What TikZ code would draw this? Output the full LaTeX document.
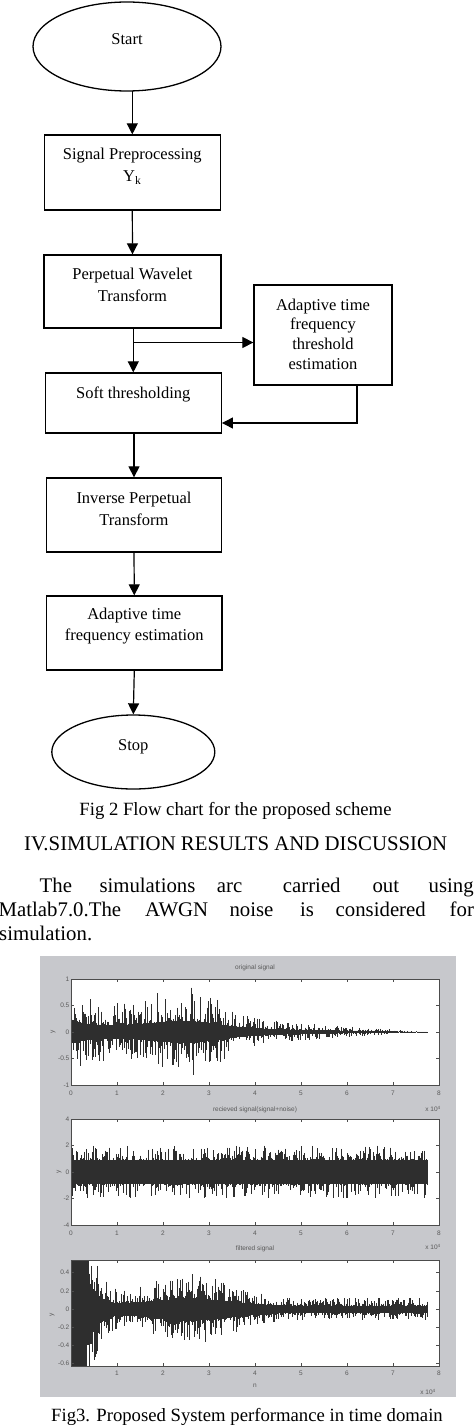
\documentclass[tikz,border=0pt]{standalone}
\usepackage{fontspec}
\setmainfont{Liberation Serif}
\newfontfamily\plotfont{Liberation Sans}
\usetikzlibrary{shapes.geometric,arrows.meta,calc}
\definecolor{figgray}{RGB}{199,200,204}
\begin{document}
\begin{tikzpicture}[x=1pt,y=-1pt,
  termin/.style={draw,ellipse,line width=1.3pt,inner sep=0pt},
  box/.style={draw,rectangle,line width=1.3pt,inner sep=0pt},
  ftext/.style={font=\fontsize{16.5}{22}\selectfont,align=center,inner sep=0pt},
  flow/.style={line width=1.2pt,-{Triangle[length=11pt,width=11pt]}},
  captext/.style={font=\fontsize{18.7}{22}\selectfont,inner sep=0pt,anchor=base},
  body/.style={font=\fontsize{20.8}{24}\selectfont,inner sep=0pt,anchor=base west},
  plotlbl/.style={font=\plotfont\fontsize{6.5}{7}\selectfont,text=black!65,inner sep=0pt},
  axbox/.style={draw=black!70,line width=0.7pt,fill=white},
  tickmark/.style={draw=black!70,line width=0.6pt},
  sigline/.style={draw=black!82,line width=0.6pt}]
\useasboundingbox (0,0) rectangle (474,1426);

% ---------------- flow chart ----------------
\node[termin,minimum width=188pt,minimum height=89pt] (start) at (127,46.5) {};
\node[ftext] (starttext) at (127,39) {Start};

\node[box,minimum width=176pt,minimum height=75pt] (b1) at (132.3,172.5) {};
\node[ftext,anchor=north] (b1text) at ($(b1.north)+(0,13.7)$) {Signal Preprocessing\\Y\textsubscript{k}};

\node[box,minimum width=177pt,minimum height=73pt] (b2) at (132.5,291.5) {};
\node[ftext,anchor=north] (b2text) at ($(b2.north)+(0,13.7)$) {Perpetual Wavelet\\Transform};

\node[box,minimum width=138pt,minimum height=100pt] (thr) at (323,335) {};
\node[ftext,font=\fontsize{16.5}{19.6}\selectfont] (thrtext) at (323,334) {Adaptive time\\frequency\\threshold\\estimation};

\node[box,minimum width=176pt,minimum height=60pt] (soft) at (133.3,403) {};
\node[ftext,anchor=north] (softtext) at ($(soft.north)+(0,14.7)$) {Soft thresholding};

\node[box,minimum width=175.5pt,minimum height=74pt] (inv) at (134,515) {};
\node[ftext,anchor=north] (invtext) at ($(inv.north)+(0,14.7)$) {Inverse Perpetual\\Transform};

\node[box,minimum width=175.5pt,minimum height=74pt] (ada) at (134.3,633) {};
\node[ftext,anchor=north,font=\fontsize{16.5}{20.5}\selectfont] (adatext) at ($(ada.north)+(0,12.7)$) {Adaptive time\\frequency estimation};

\node[termin,minimum width=163pt,minimum height=74pt] (stop) at (133.3,752) {};
\node[ftext] (stoptext) at (133.3,747) {Stop};

\coordinate (startbot) at (132.3,91);
\coordinate (branch) at (133,342.5);
\coordinate (thrdown) at (357,423);

\draw[flow] (startbot) -- (b1.north);
\draw[flow] (b1.south) -- (b2.north);
\draw[flow] (b2.south -| soft.north) -- (soft.north);
\draw[flow] (branch) -- (branch -| thr.west);
\draw[flow] (thrdown |- thr.south) -- (thrdown) -- (thrdown -| soft.east);
\draw[flow] (inv.north |- soft.south) -- (inv.north);
\draw[flow] (inv.south) -- (ada.north);
\draw[flow] (ada.south) -- (stop.north);

% ---------------- captions and text ----------------
\node[captext] (fig2cap) at (235.5,815) {Fig 2 Flow chart for the proposed scheme};
\node[captext,font=\fontsize{20.8}{24}\selectfont] (heading) at (235.7,850) {IV.SIMULATION RESULTS AND DISCUSSION};

\node[body] (w1) at (39.5,892) {The};
\node[body] (w2) at (99.3,892) {simulations};
\node[body] (w3) at (216.7,892) {arc};
\node[body] (w4) at (282.7,892) {carried};
\node[body] (w5) at (372.3,892) {out};
\node[body] (w6) at (428.5,892) {using};
\node[body] (w7) at (-1.5,916.5) {Matlab7.0.The};
\node[body] (w8) at (145,916.5) {AWGN};
\node[body] (w9) at (229.3,916.5) {noise};
\node[body] (w10) at (300,916.5) {is};
\node[body] (w11) at (335.5,916.5) {considered};
\node[body] (w12) at (449.5,916.5) {for};
\node[body] (w13) at (-1,940.5) {simulation.};

% ---------------- figure 3 ----------------
\fill[figgray] (40,956) rectangle (456,1397);

% plot 1
\draw[axbox] (71,979) rectangle (439,1085);
\pgfmathsetseed{17}
\begin{scope}
\clip (71,979) rectangle (439,1085);
\foreach \i in {0,...,700}{
  \pgfmathsetmacro\t{\i*7.75/700}
  \pgfmathsetmacro\c{(7.75-\t)/7.75*(0.2+0.35*exp(max(-15,-(\t-2.6)*(\t-2.6)/1.2))+0.2*exp(max(-15,-\t/0.5)))}
  \pgfmathsetmacro\ra{rnd}
  \pgfmathsetmacro\rb{rnd}
  \pgfmathsetmacro\up{\c*(0.55+1.8*\ra*\ra*\ra*\ra*\ra*\ra)}
  \pgfmathsetmacro\dn{\c*(0.55+1.7*\rb*\rb*\rb*\rb*\rb*\rb)}
  \draw[sigline] (71+46*\t,1032-53*\up) -- (71+46*\t,1032+53*\dn);
}
\end{scope}
\draw[draw=black!70,line width=0.7pt] (71,979) rectangle (439,1085);
\foreach \k in {1,...,7}{
  \draw[tickmark] (71+46*\k,979) -- ++(0,3);
  \draw[tickmark] (71+46*\k,1085) -- ++(0,-3);
}
\foreach \yy in {1005.5,1032,1058.5}{
  \draw[tickmark] (71,\yy) -- ++(3,0);
  \draw[tickmark] (439,\yy) -- ++(-3,0);
}
\node[plotlbl] (t1) at (255,968) {original signal};
\node[plotlbl,anchor=east] (y1a) at (69.5,979) {1};
\node[plotlbl,anchor=east] (y1b) at (69.5,1005.5) {0.5};
\node[plotlbl,anchor=east] (y1c) at (69.5,1032) {0};
\node[plotlbl,anchor=east] (y1d) at (69.5,1058.5) {-0.5};
\node[plotlbl,anchor=east] (y1e) at (69.5,1085) {-1};
\node[plotlbl,rotate=90] (yl1) at (53,1032) {y};
\foreach \k in {0,...,8}{
  \node[plotlbl] (x1\k) at (71+46*\k,1093) {\k};
}
\node[plotlbl] (e1) at (433,1109) {x 10\textsuperscript{4}};

% plot 2
\draw[axbox] (71,1119) rectangle (439,1225);
\begin{scope}
\clip (71,1119) rectangle (439,1225);
\foreach \i in {0,...,700}{
  \pgfmathsetmacro\t{\i*7.75/700}
  \pgfmathsetmacro\ra{rnd}
  \pgfmathsetmacro\rb{rnd}
  \pgfmathsetmacro\up{1.15*(0.78+0.95*\ra*\ra*\ra*\ra*\ra*\ra)}
  \pgfmathsetmacro\dn{1.15*(0.78+0.95*\rb*\rb*\rb*\rb*\rb*\rb)}
  \draw[sigline] (71+46*\t,1172-13.25*\up) -- (71+46*\t,1172+13.25*\dn);
}
\end{scope}
\draw[draw=black!70,line width=0.7pt] (71,1119) rectangle (439,1225);
\foreach \k in {1,...,7}{
  \draw[tickmark] (71+46*\k,1119) -- ++(0,3);
  \draw[tickmark] (71+46*\k,1225) -- ++(0,-3);
}
\foreach \yy in {1145.5,1172,1198.5}{
  \draw[tickmark] (71,\yy) -- ++(3,0);
  \draw[tickmark] (439,\yy) -- ++(-3,0);
}
\node[plotlbl] (t2) at (255,1110) {recieved signal(signal+noise)};
\node[plotlbl,anchor=east] (y2a) at (69.5,1119) {4};
\node[plotlbl,anchor=east] (y2b) at (69.5,1145.5) {2};
\node[plotlbl,anchor=east] (y2c) at (69.5,1172) {0};
\node[plotlbl,anchor=east] (y2d) at (69.5,1198.5) {-2};
\node[plotlbl,anchor=east] (y2e) at (69.5,1225) {-4};
\node[plotlbl,rotate=90] (yl2) at (59,1172) {y};
\foreach \k in {0,...,8}{
  \node[plotlbl] (x2\k) at (71+46*\k,1233) {\k};
}
\node[plotlbl] (e2) at (433,1247) {x 10\textsuperscript{4}};

% plot 3
\draw[axbox] (71,1260) rectangle (439,1366);
\begin{scope}
\clip (71,1260) rectangle (439,1366);
\foreach \i in {0,...,700}{
  \pgfmathsetmacro\t{\i*7.75/700}
  \pgfmathsetmacro\c{\t<0.35 ? 1.5 : (0.05+0.11*exp(max(-15,-(\t-2.6)*(\t-2.6)/1.5))+0.45*exp(max(-15,-(\t-0.35)/0.22)))}
  \pgfmathsetmacro\ra{rnd}
  \pgfmathsetmacro\rb{rnd}
  \pgfmathsetmacro\up{\c*(0.7+1.7*\ra*\ra*\ra*\ra)}
  \pgfmathsetmacro\dn{\c*(0.8+1.6*\rb*\rb*\rb*\rb)}
  \draw[sigline] (71+46*\t,1309-91*\up) -- (71+46*\t,1309+91*\dn);
}
\end{scope}
\draw[draw=black!70,line width=0.7pt] (71,1260) rectangle (439,1366);
\foreach \k in {1,...,7}{
  \draw[tickmark] (71+46*\k,1260) -- ++(0,3);
  \draw[tickmark] (71+46*\k,1366) -- ++(0,-3);
}
\foreach \yy in {1272.6,1290.8,1309,1327.2,1345.4,1363.6}{
  \draw[tickmark] (71,\yy) -- ++(3,0);
  \draw[tickmark] (439,\yy) -- ++(-3,0);
}
\node[plotlbl] (t3) at (255,1249) {filtered signal};
\node[plotlbl,anchor=east] (y3a) at (69.5,1272.6) {0.4};
\node[plotlbl,anchor=east] (y3b) at (69.5,1290.8) {0.2};
\node[plotlbl,anchor=east] (y3c) at (69.5,1309) {0};
\node[plotlbl,anchor=east] (y3d) at (69.5,1327.2) {-0.2};
\node[plotlbl,anchor=east] (y3e) at (69.5,1345.4) {-0.4};
\node[plotlbl,anchor=east] (y3f) at (69.5,1363.6) {-0.6};
\node[plotlbl,rotate=90] (yl3) at (52,1315) {y};
\foreach \k in {1,...,8}{
  \node[plotlbl] (x3\k) at (71+46*\k,1373) {\k};
}
\node[plotlbl] (xl3) at (255,1386) {n};
\node[plotlbl] (e3) at (428,1392) {x 10\textsuperscript{4}};

\node[captext] (fig3cap) at (247,1421.5) {Fig3. Proposed System performance in time domain};
\end{tikzpicture}
\end{document}
